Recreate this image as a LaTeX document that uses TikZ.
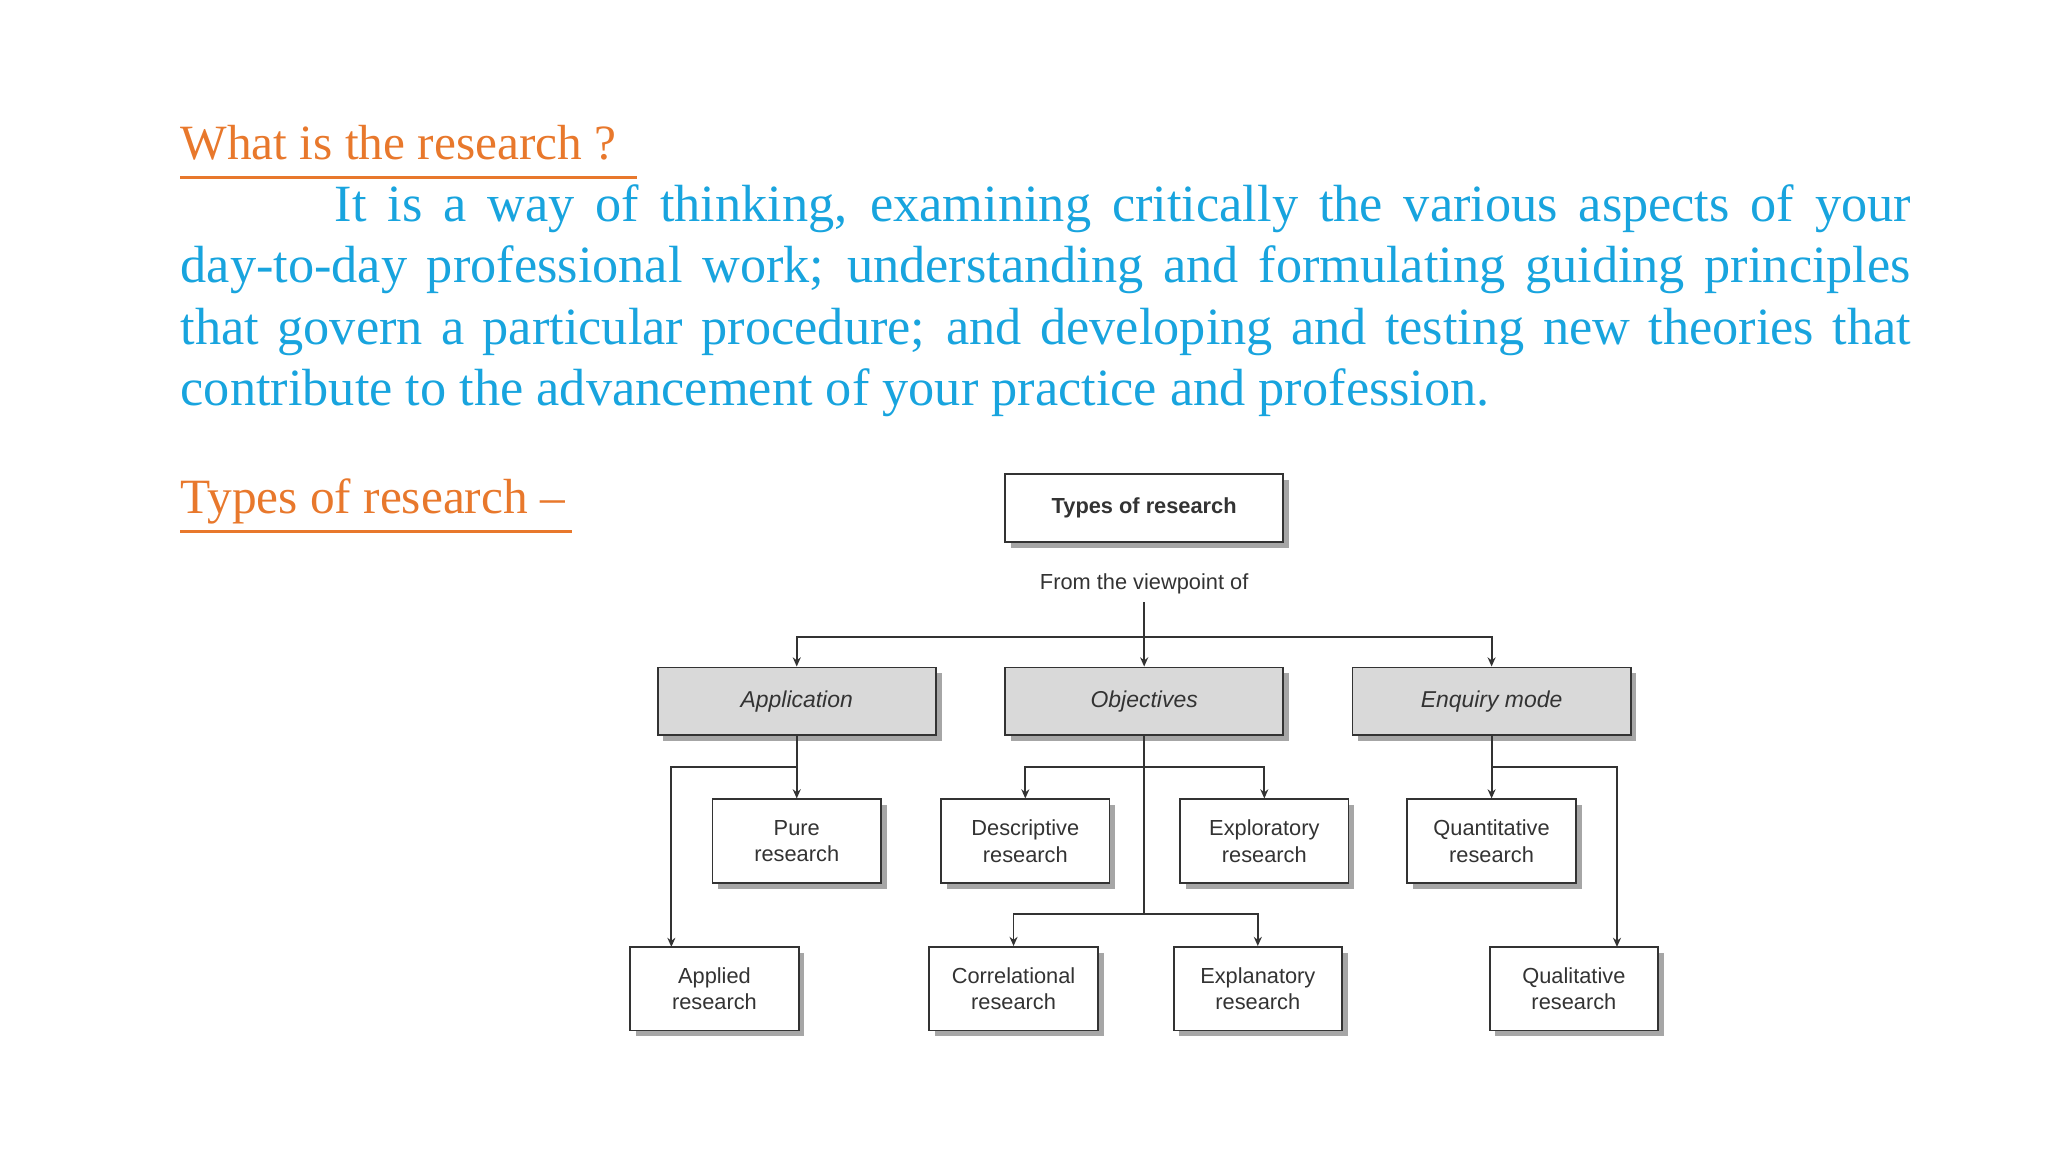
\documentclass[tikz,border=0pt]{standalone}
\usepackage{fontspec}
\setmainfont{Liberation Serif}
\setsansfont{Liberation Sans}
\usetikzlibrary{shadows,arrows.meta}
\definecolor{orng}{RGB}{232,120,44}
\definecolor{cyn}{RGB}{24,164,222}
\tikzset{
 bx/.style={draw=black!80,line width=0.8pt,fill=white,minimum width=2.58cm,minimum height=1.28cm,align=center,font=\sffamily\fontsize{9.5}{11.5}\selectfont,text=black!80,drop shadow={shadow xshift=2.5pt,shadow yshift=-2.5pt,fill=black!35,opacity=1}},
 bigbx/.style={bx,minimum width=4.26cm,minimum height=1.04cm},
 catbx/.style={bigbx,fill=black!15,font=\sffamily\itshape\fontsize{10}{12}\selectfont},
 cn/.style={draw=black!80,line width=0.8pt},
 ar/.style={cn,-{Stealth[length=4pt,width=3.5pt]}},
 head/.style={anchor=base west,text=orng,font=\fontsize{21.5}{24}\selectfont,inner sep=0pt}
}
\begin{document}
\begin{tikzpicture}[x=0.02cm,y=-0.02cm]
\useasboundingbox (0,0) rectangle (1568,882);
\node[head] (h1) at (138,122) {What is the research ?};
\draw[orng,line width=1pt] (138,136) -- (488,136);
\node[anchor=north west,text width=26.5cm,align=justify,text=cyn,inner sep=0pt,font=\fontsize{22.8}{26.7}\selectfont] (body) at (138,141)
 {\hspace*{2.36cm}It is a way of thinking, examining critically the various aspects of your\linebreak day-to-day professional work; understanding and formulating guiding principles\linebreak that govern a particular procedure; and developing and testing new theories that\linebreak contribute to the advancement of your practice and profession.};
\node[head] (h2) at (138,393) {Types of research –};
\draw[orng,line width=1pt] (138,407) -- (438,407);

\node[bigbx,font=\sffamily\bfseries\fontsize{9.5}{11.5}\selectfont] (top) at (876,389) {Types of research};
\node[font=\sffamily\fontsize{9.5}{11}\selectfont,text=black!80] (vp) at (876,447) {From the viewpoint of};
\node[catbx] (app) at (610,537) {Application};
\node[catbx] (obj) at (876,537) {Objectives};
\node[catbx] (enq) at (1142,537) {Enquiry mode};
\node[bx] (pure) at (610,644) {Pure\\research};
\node[bx] (desc) at (785,644) {Descriptive\\research};
\node[bx] (expl) at (968,644) {Exploratory\\research};
\node[bx] (quan) at (1142,644) {Quantitative\\research};
\node[bx] (appl) at (547,757) {Applied\\research};
\node[bx] (corr) at (776,757) {Correlational\\research};
\node[bx] (expn) at (963,757) {Explanatory\\research};
\node[bx] (qual) at (1205,757) {Qualitative\\research};

\coordinate (j0) at (876,488);
\draw[ar] (vp.south) -- (obj.north);
\draw[ar] (j0) -| (app.north);
\draw[ar] (j0) -| (enq.north);

\draw[ar] (app.south) -- (pure.north);
\draw[ar] (610,587) -| (514,725);

\draw[cn] (obj.south) -- (876,700);
\draw[ar] (876,587) -| (desc.north);
\draw[ar] (876,587) -| (expl.north);
\draw[ar] (876,700) -| (corr.north);
\draw[ar] (876,700) -| (expn.north);

\draw[ar] (enq.south) -- (quan.north);
\draw[ar] (1142,587) -| (1238,725);
\end{tikzpicture}
\end{document}
